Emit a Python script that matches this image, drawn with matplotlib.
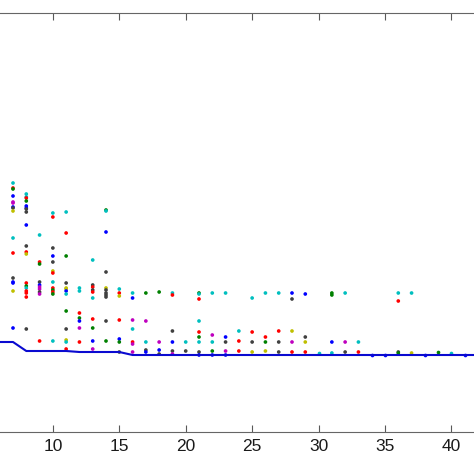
import matplotlib.pyplot as plt

# 每一代个体的目标值 (按代分组) 及其颜色代码
gen_vals = {
    7: [24.9, 24.4, 24.3, 23.6, 23.0, 22.9, 22.5, 22.4, 22.1, 19.4, 17.9, 15.4, 15.0, 14.9, 14.1, 10.4],
    8: [23.8, 23.5, 23.4, 23.1, 22.6, 22.4, 22.3, 22.0, 20.7, 18.6, 18.0, 17.8, 14.9, 14.6, 14.4, 14.1, 13.9, 13.5, 10.3],
    9: [19.7, 17.0, 16.8, 15.0, 14.7, 14.5, 14.3, 14.0, 13.8, 9.1],
    10: [21.9, 21.5, 18.4, 17.6, 17.0, 16.1, 15.9, 15.0, 14.4, 14.2, 14.0, 13.8, 9.1],
    11: [22.0, 19.9, 17.6, 14.9, 14.4, 14.3, 14.1, 13.8, 12.1, 10.3, 9.2, 9.0, 8.3],
    12: [14.4, 14.1, 11.9, 11.4, 11.1, 10.4, 9.0],
    13: [17.2, 14.7, 14.5, 14.2, 14.0, 13.4, 11.3, 10.4, 9.1, 8.3],
    14: [22.2, 22.1, 20.0, 16.0, 14.4, 14.2, 13.9, 13.7, 13.5, 11.1, 9.1],
    15: [14.3, 13.9, 13.6, 11.2, 9.3, 9.0, 8.0],
    16: [13.9, 13.4, 11.2, 10.3, 9.0, 8.8, 8.0],
    17: [13.9, 11.1, 9.0, 8.2, 8.0],
    18: [14.0, 9.0, 8.2, 7.8],
    19: [13.9, 13.7, 10.1, 9.0, 8.1, 7.8],
    20: [9.0, 8.1],
    21: [13.9, 13.8, 13.3, 11.1, 10.0, 9.5, 9.0, 8.0, 7.7],
    22: [13.9, 9.7, 9.0, 8.1, 7.7],
    23: [13.9, 9.5, 9.0, 8.1, 7.7],
    24: [10.1, 9.1, 8.1],
    25: [13.4, 10.0, 9.0, 8.0],
    26: [13.9, 9.5, 9.0, 8.1],
    27: [13.9, 10.1, 9.0, 8.0],
    28: [13.9, 13.3, 10.1, 9.0, 8.0],
    29: [13.8, 9.5, 9.0, 8.0],
    30: [7.9],
    31: [13.9, 13.7, 9.0, 7.9],
    32: [13.9, 9.0, 8.0],
    33: [9.0, 8.0],
    34: [7.7],
    35: [7.7],
    36: [13.9, 13.1, 8.0, 7.9],
    37: [13.9, 7.9],
    38: [7.7],
    39: [8.0],
    40: [7.9],
    41: [7.7],
}
gen_cols = {
    7: "crgbmmbkycrkbbyb",
    8: "ccrgbbkkbkryrgcrrrk",
    9: "crgkbmmkmr",
    10: "crkbkyrcrgrgc",
    11: "crgkyybcgkycr",
    12: "ccrgbmr",
    13: "ckrkrcrgbm",
    14: "gcbkykkkkkg",
    15: "cryrbgk",
    16: "cbmcrmm",
    17: "gmckb",
    18: "gmbk",
    19: "crkbkm",
    20: "ck",
    21: "gcrcrgckb",
    22: "cmcgb",
    23: "cbkmb",
    24: "crr",
    25: "crky",
    26: "crgy",
    27: "crkk",
    28: "bkymr",
    29: "bkyr",
    30: "c",
    31: "ggbc",
    32: "cmk",
    33: "cr",
    34: "b",
    35: "b",
    36: "crkg",
    37: "cy",
    38: "b",
    39: "g",
    40: "c",
    41: "b",
}

# 每代最优值
best_gen = list(range(0, 43))
best_val = [9.0, 9.0, 9.0, 9.0, 9.0, 9.0, 9.0, 9.0,
            8.1, 8.1, 8.1, 8.1, 8.0, 8.0, 8.0, 8.0,
            7.7, 7.7, 7.7, 7.7, 7.7, 7.7, 7.7, 7.7, 7.7, 7.7, 7.7,
            7.7, 7.7, 7.7, 7.7, 7.7, 7.7, 7.7, 7.7, 7.7, 7.7, 7.7,
            7.7, 7.7, 7.7, 7.7, 7.7]

# MATLAB 旧版颜色
mcol = {'b': (0, 0, 1), 'g': (0, 0.5, 0), 'r': (1, 0, 0), 'c': (0, 0.75, 0.75),
        'm': (0.75, 0, 0.75), 'y': (0.75, 0.75, 0), 'k': (0.25, 0.25, 0.25)}

plt.rcParams['font.family'] = ['Liberation Sans', 'DejaVu Sans']

fig = plt.figure(figsize=(4.74, 4.74), dpi=100)
ax = fig.add_axes([-80 / 474, 42 / 474, 558 / 474, 419 / 474])

for g in gen_vals:
    ax.scatter([g] * len(gen_vals[g]), gen_vals[g],
               c=[mcol[ch] for ch in gen_cols[g]], s=7, linewidths=0, zorder=2)

ax.plot(best_gen, best_val, color='#0a0ad0', linewidth=1.5, zorder=3)

ax.set_xlim(0, 42)
ax.set_ylim(0, 41.9)
ax.set_xticks(range(10, 45, 5))
ax.set_yticks([])
ax.tick_params(axis='x', direction='in', top=True, length=5, width=0.8,
               color='0.35', labelsize=12.5, pad=5, labelcolor='0.1')
for sp in ax.spines.values():
    sp.set_color('0.4')
    sp.set_linewidth(0.8)

fig.savefig('out.png', dpi=100)
